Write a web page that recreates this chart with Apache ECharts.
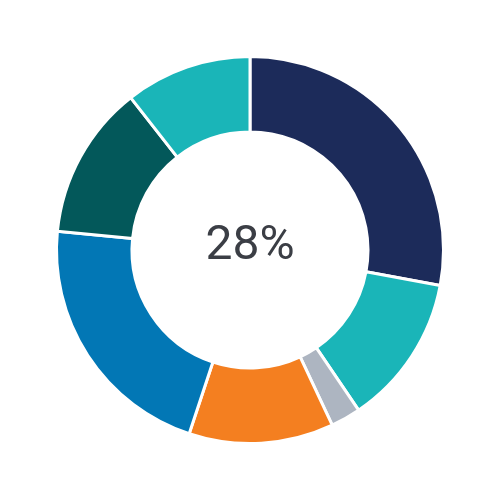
<!DOCTYPE html>
<html>
<head>
<meta charset="utf-8">
<script src="https://cdn.jsdelivr.net/npm/echarts@6/dist/echarts.min.js"></script>
<style>html,body{margin:0;padding:0;background:#fff}#c{width:500px;height:500px}</style>
</head>
<body>
<div id="c"></div>
<script>
const categories = ['A', 'B', 'C', 'D', 'E', 'F', 'G'];
const values = [28, 12.6, 2.5, 12.1, 21.5, 12.9, 10.6];
const colors = ['#1c2b5a', '#1ab5b8', '#adb5c1', '#f47f20', '#0277b5', '#03585a', '#1ab5b8'];
const centerLabel = '28%';

const chart = echarts.init(document.getElementById('c'));
chart.setOption({
  animation: false,
  graphic: [{
    type: 'text',
    x: 250,
    y: 247,
    style: { text: centerLabel, fontSize: 48, fontFamily: 'Roboto, sans-serif', fill: '#3b3e45', align: 'center', verticalAlign: 'middle' }
  }],
  series: [{
    type: 'pie',
    center: ['50%', '50%'],
    radius: ['47.2%', '77.4%'],
    startAngle: 90,
    clockwise: true,
    label: { show: false },
    labelLine: { show: false },
    itemStyle: { borderColor: '#ffffff', borderWidth: 3 },
    data: categories.map((c, i) => ({ name: c, value: values[i], itemStyle: { color: colors[i] } }))
  }]
});
</script>
</body>
</html>
